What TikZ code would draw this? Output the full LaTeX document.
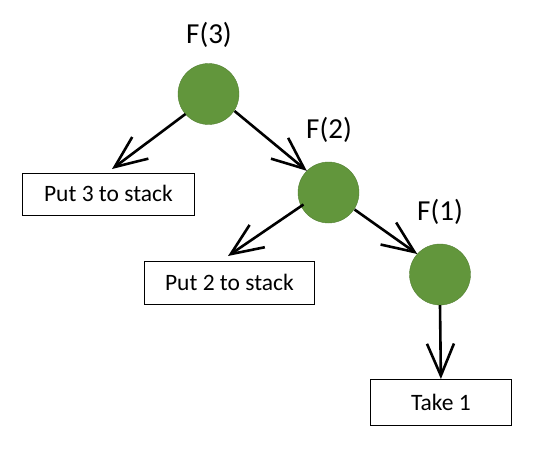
\documentclass[tikz,border=0pt]{standalone}
\usepackage{fontspec}
\setmainfont{Carlito}
\usetikzlibrary{arrows.meta}
\definecolor{ballgreen}{RGB}{98,150,60}
\begin{document}
\begin{tikzpicture}[x=1pt,y=-1pt,
  ball/.style={circle,fill=ballgreen,draw=ballgreen!85!black,line width=0.4pt,minimum size=61pt,inner sep=0pt},
  lbl/.style={font=\fontsize{29}{33}\selectfont,inner sep=0pt},
  boxnode/.style={draw,line width=0.8pt,font=\fontsize{23.5}{27}\selectfont,inner sep=0pt,anchor=north west},
  conn/.style={line width=2.6pt,-{Straight Barb[length=32pt,width=27pt,line width=2.6pt]}}]
\useasboundingbox (0,0) rectangle (535,452);
\node[ball] (f3) at (208.5,94) {};
\node[ball] (f2) at (328.5,192.5) {};
\node[ball] (f1) at (440,274.5) {};
\node[lbl] (l3) at (209,35) {F(3)};
\node[lbl] (l2) at (329,130) {F(2)};
\node[lbl] (l1) at (440,212) {F(1)};
\node[boxnode,minimum width=172pt,minimum height=42pt] (b3) at (22,172.5) {Put 3 to stack};
\node[boxnode,minimum width=170pt,minimum height=43pt] (b2) at (144,261) {Put 2 to stack};
\node[boxnode,minimum width=141pt,minimum height=46pt] (b1) at (370,379) {Take 1};
\coordinate (t3) at (112,169);
\coordinate (t2) at (228,256);
\draw[conn] (f3) ++(-23,20) -- (t3);
\draw[conn] (f3) ++(26,17) -- (f2.135);
\draw[conn] (f2) ++(-25,12) -- (t2);
\draw[conn] (f2) ++(26,17) -- (f1.138);
\draw[conn] (f1.south) -- (b1.north);
\end{tikzpicture}
\end{document}
